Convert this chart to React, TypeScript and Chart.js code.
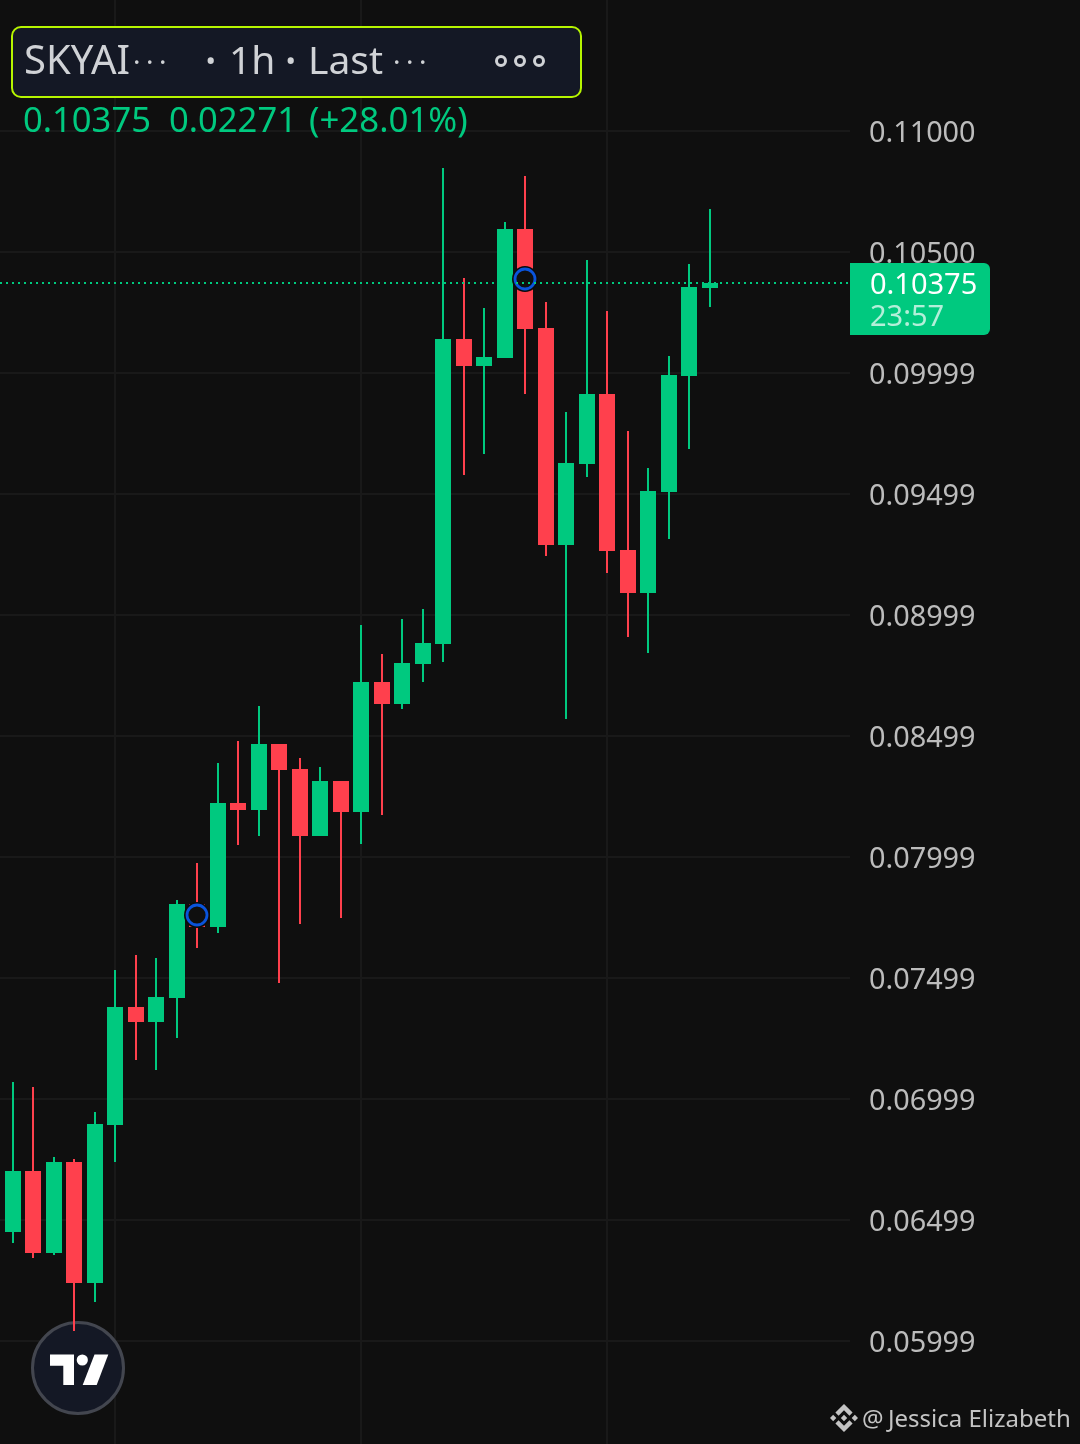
import React, { useEffect, useLayoutEffect, useRef } from "react";
import { Chart, registerables } from "chart.js";

Chart.register(...registerables);

const opens = [0.0645, 0.06702, 0.06363, 0.06739, 0.06239, 0.06892, 0.07379, 0.07317, 0.07417, 0.07805, 0.0771, 0.08223, 0.08194, 0.08466, 0.08363, 0.08086, 0.08314, 0.08185, 0.08723, 0.08632, 0.08797, 0.0888, 0.1014, 0.10029, 0.10062, 0.10595, 0.10186, 0.09289, 0.09624, 0.09913, 0.09268, 0.09091, 0.09508, 0.09987, 0.10351];
const highs = [0.07069, 0.07049, 0.06759, 0.06751, 0.06945, 0.07532, 0.07594, 0.07582, 0.07822, 0.07975, 0.08388, 0.08479, 0.08623, 0.08466, 0.08409, 0.08371, 0.08314, 0.08958, 0.08838, 0.08983, 0.09024, 0.10847, 0.10392, 0.10268, 0.10624, 0.10814, 0.10293, 0.09839, 0.10467, 0.10256, 0.0976, 0.09607, 0.1007, 0.1045, 0.10678];
const lows = [0.06404, 0.06342, 0.06354, 0.0604, 0.0616, 0.06739, 0.0716, 0.07119, 0.07251, 0.07623, 0.07685, 0.08049, 0.08086, 0.07479, 0.07722, 0.08086, 0.07747, 0.08053, 0.08173, 0.08611, 0.08723, 0.08805, 0.09578, 0.09665, 0.10062, 0.09913, 0.09243, 0.0857, 0.0957, 0.09173, 0.08909, 0.08843, 0.09314, 0.09686, 0.10273];
const closes = [0.06702, 0.06363, 0.06739, 0.06239, 0.06896, 0.07379, 0.07317, 0.07421, 0.07805, 0.0771, 0.08223, 0.08194, 0.08466, 0.08359, 0.08086, 0.08314, 0.08185, 0.08723, 0.08632, 0.08801, 0.08884, 0.1014, 0.10029, 0.10066, 0.10595, 0.10182, 0.09289, 0.09628, 0.09913, 0.09264, 0.09091, 0.09512, 0.09992, 0.10355, 0.10372];

const priceTicks = [0.05999, 0.06499, 0.06999, 0.07499, 0.07999, 0.08499, 0.08999, 0.09499, 0.09999, 0.105, 0.11];
const timeGridIndexes = [5, 17, 29];
const markerIndexes = [9, 25];
const markerPrices = [0.0776, 0.10388];
const lastPrice = 0.10375;

const X_MIN = -0.62927;
const X_MAX = 40.8341;
const Y_MIN = 0.0557329;
const Y_MAX = 0.1154143;

const BG = "#0f0f0f";
const UP = "#00c97f";
const DOWN = "#ff404d";
const GRID = "#191919";
const TICK = "#bcbcbc";
const PANEL = "#141825";
const FONT = '"Noto Sans", sans-serif';

const colorOf = (i: number) => (closes[i] >= opens[i] ? UP : DOWN);

const snapPlugin = {
  id: "snap",
  afterDatasetsUpdate(chart: any) {
    chart.data.datasets.forEach((ds: any, i: number) => {
      const meta = chart.getDatasetMeta(i);
      meta.data.forEach((el: any) => {
        if (ds.label === "last") {
          el.y = Math.ceil(el.y);
          return;
        }
        el.x = Math.round(el.x);
        el.y = Math.round(el.y);
        if (typeof el.base === "number") el.base = Math.round(el.base);
      });
    });
  },
};

const logoPlugin = {
  id: "logo",
  beforeDatasetsDraw(chart: any) {
    const c = chart.ctx;
    c.save();
    c.beginPath();
    c.arc(78, 1368, 45.5, 0, Math.PI * 2);
    c.fillStyle = PANEL;
    c.fill();
    c.lineWidth = 3;
    c.strokeStyle = "#43464f";
    c.stroke();
    c.fillStyle = "#ffffff";
    c.fill(new Path2D("M50 1354.5H74V1385H63.3V1365.7H50Z"));
    c.fill(new Path2D("M94.5 1354.5H108.3L96.7 1385H82.7Z"));
    c.beginPath();
    c.arc(82.3, 1360, 5.6, 0, Math.PI * 2);
    c.fill();
    c.restore();
  },
};

function Txt({ x, cy, size, color, spacing, children }: any) {
  return (
    <span
      style={{
        position: "absolute",
        left: x,
        top: cy - 40,
        height: 80,
        lineHeight: "80px",
        fontSize: size,
        color,
        fontFamily: FONT,
        letterSpacing: spacing,
        whiteSpace: "pre",
      }}
    >
      {children}
    </span>
  );
}

export default function App() {
  const ref = useRef<HTMLCanvasElement>(null);

  useLayoutEffect(() => {
    document.documentElement.style.background = BG;
    document.body.style.margin = "0";
    document.body.style.background = BG;
  }, []);

  useEffect(() => {
    const xs = opens.map((_, i) => i);
    const chart = new Chart(ref.current as HTMLCanvasElement, {
      type: "bar",
      data: {
        datasets: [
          {
            type: "line",
            label: "last",
            data: [
              { x: X_MIN, y: lastPrice },
              { x: X_MAX, y: lastPrice },
            ],
            borderColor: UP,
            borderWidth: 2,
            borderDash: [2, 4],
            pointRadius: 0,
            order: 0,
          },
          {
            type: "line",
            label: "marker",
            data: markerIndexes.map((x, i) => ({ x, y: markerPrices[i] })),
            showLine: false,
            pointRadius: 10,
            pointBorderWidth: 2.8,
            pointBackgroundColor: "#0f0f0f",
            pointBorderColor: "#0a54dc",
            order: 1,
          },
          {
            type: "line",
            label: "halo",
            data: markerIndexes.map((x, i) => ({ x, y: markerPrices[i] })),
            showLine: false,
            pointRadius: 13,
            pointBorderWidth: 0,
            pointBackgroundColor: "#0c0c0c",
            order: 2,
          },
          {
            label: "body",
            data: xs.map((x) => ({ x, y: [opens[x], closes[x]] })),
            backgroundColor: xs.map(colorOf),
            grouped: false,
            barPercentage: 1,
            categoryPercentage: 1,
            maxBarThickness: 16,
            inflateAmount: 0,
            borderWidth: 0,
            order: 3,
          },
          {
            label: "wick",
            data: xs.map((x) => ({ x, y: [lows[x], highs[x]] })),
            backgroundColor: xs.map(colorOf),
            grouped: false,
            barPercentage: 1,
            categoryPercentage: 1,
            maxBarThickness: 2,
            inflateAmount: 0,
            borderWidth: 0,
            order: 4,
          },
        ] as any,
      },
      options: {
        animation: false,
        responsive: false,
        devicePixelRatio: 1,
        events: [],
        layout: { padding: 0, autoPadding: false },
        plugins: { legend: { display: false }, tooltip: { enabled: false }, title: { display: false } },
        scales: {
          x: {
            type: "linear",
            offset: false,
            min: X_MIN,
            max: X_MAX,
            afterBuildTicks: (s: any) => {
              s.ticks = timeGridIndexes.map((value) => ({ value }));
            },
            ticks: { display: false },
            border: { display: false },
            grid: { color: GRID, lineWidth: 2, drawTicks: false, offset: false },
          },
          y: {
            type: "linear",
            position: "right",
            min: Y_MIN,
            max: Y_MAX,
            afterBuildTicks: (s: any) => {
              s.ticks = priceTicks.map((value) => ({ value }));
            },
            afterFit: (s: any) => {
              s.width = 230;
              s.paddingTop = 0;
              s.paddingBottom = 0;
            },
            ticks: {
              autoSkip: false,
              padding: 19,
              labelOffset: 2.6,
              color: TICK,
              font: { family: FONT, size: 28.8 },
              callback: (v: any) => Number(v).toFixed(5),
            },
            border: { display: false },
            grid: { color: GRID, lineWidth: 2, drawTicks: false },
          },
        },
      } as any,
      plugins: [snapPlugin, logoPlugin],
    });
    return () => chart.destroy();
  }, []);

  const head = "#d0d2d6";
  return (
    <div style={{ position: "relative", width: 1080, height: 1444, background: BG, overflow: "hidden" }}>
      <canvas ref={ref} width={1080} height={1444} style={{ display: "block", width: 1080, height: 1444 }} />

      <div
        style={{
          position: "absolute",
          left: 11,
          top: 26,
          width: 567,
          height: 68,
          border: "2px solid #b6f500",
          borderRadius: 10,
          background: PANEL,
        }}
      />
      <Txt x={24} cy={59} size={40} color={head}>SKYAI</Txt>
      <Txt x={133} cy={61} size={28} spacing={5.5} color={head}>···</Txt>
      <Txt x={204} cy={59} size={50} color={head}>·</Txt>
      <Txt x={229} cy={59} size={39} color={head}>1h</Txt>
      <Txt x={284} cy={59} size={50} color={head}>·</Txt>
      <Txt x={308} cy={59} size={39} color={head}>Last</Txt>
      <Txt x={393} cy={61} size={28} spacing={5.5} color={head}>···</Txt>
      <svg style={{ position: "absolute", left: 490, top: 49, width: 60, height: 24 }}>
        {[11, 30, 49].map((cx) => (
          <circle key={cx} cx={cx} cy={12} r={4.5} fill="none" stroke={head} strokeWidth={3} />
        ))}
      </svg>

      <Txt x={23} cy={119} size={34.6} color={UP}>0.10375</Txt>
      <Txt x={169} cy={119} size={34.6} color={UP}>0.02271</Txt>
      <Txt x={309} cy={119} size={34.8} color={UP}>(+28.01%)</Txt>

      <div
        style={{
          position: "absolute",
          left: 850,
          top: 263,
          width: 140,
          height: 72,
          background: UP,
          borderRadius: "0 6px 6px 0",
        }}
      />
      <Txt x={870} cy={283} size={29} color="#ffffff">0.10375</Txt>
      <Txt x={870} cy={315} size={29} color="rgba(255,255,255,0.7)">23:57</Txt>

      <svg
        viewBox="0 0 126.61 126.61"
        style={{ position: "absolute", left: 830, top: 1404, width: 28, height: 28 }}
        fill="#c4c4c4"
      >
        <path d="M38.73 53.2l24.59-24.58 24.6 24.6 14.3-14.31L63.32 0 24.42 38.9z" />
        <path d="M0 63.31l14.3-14.31 14.31 14.31-14.31 14.3z" />
        <path d="M38.73 73.41L63.32 98l24.6-24.6 14.31 14.29-38.9 38.91-38.91-38.88v-.03z" />
        <path d="M98 63.31l14.3-14.31 14.31 14.3-14.31 14.32z" />
        <path d="M77.83 63.3L63.32 48.78 52.59 59.51l-1.24 1.23-2.54 2.54 14.51 14.5 14.51-14.47z" />
      </svg>
      <Txt x={862} cy={1418} size={24} color="#c4c4c4">@</Txt>
      <Txt x={888} cy={1418} size={24} color="#c4c4c4">Jessica Elizabeth</Txt>
    </div>
  );
}
